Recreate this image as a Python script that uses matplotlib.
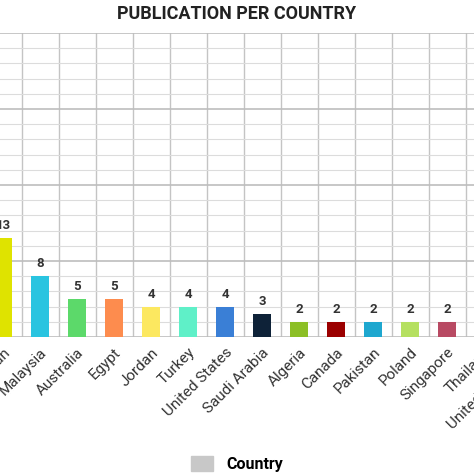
import matplotlib.pyplot as plt
from matplotlib.patches import Patch

countries = ['Iran', 'Malaysia', 'Australia', 'Egypt', 'Jordan', 'Turkey',
             'United States', 'Saudi Arabia', 'Algeria', 'Canada', 'Pakistan',
             'Poland', 'Singapore', 'Thailand', 'United Kingdom']
counts = [13, 8, 5, 5, 4, 4, 4, 3, 2, 2, 2, 2, 2, 2, 2]
colors = ['#dfe300', '#29c4e0', '#5cd96a', '#fd8c4e', '#fce860', '#5ff0c8',
          '#3a7fd6', '#0e2238', '#8cbf26', '#9b0000', '#1ea7cf', '#b5e060',
          '#b84a63', '#e0a030', '#7a5cc0']

plt.rcParams['font.family'] = ['Roboto', 'DejaVu Sans']
fig = plt.figure(figsize=(4.74, 4.74), dpi=100)
W = 474
left_px = 3 - 0.5 * 37
right_px = 3 + 14.5 * 37
ax = fig.add_axes([left_px / W, 137 / W, (right_px - left_px) / W, 304 / W])

x = list(range(len(countries)))
ax.bar(x, counts, width=0.47, color=colors, zorder=3)
for xi, v in zip(x, counts):
    ax.text(xi, v + 0.8, str(v), ha='center', va='bottom', fontsize=9.5,
            fontweight='bold', color='#333333')

ax.set_xlim(-0.5, 14.5)
ax.set_ylim(0, 40)
ax.set_xticks(x)
ax.set_xticklabels(countries, rotation=45, ha='right', rotation_mode='anchor',
                   fontsize=11, color='#333333')
ax.set_xticks([i + 0.5 for i in range(-1, 15)], minor=True)
ax.set_yticks([0, 10, 20, 30, 40])
ax.set_yticks(range(0, 41, 2), minor=True)
ax.tick_params(axis='both', which='both', length=0)
ax.tick_params(axis='y', labelleft=False)
ax.tick_params(axis='x', which='major', pad=6)
ax.grid(True, axis='y', which='major', color='#bdbdbd', lw=1.2, zorder=0)
ax.grid(True, axis='y', which='minor', color='#dcdcdc', lw=0.8, zorder=0)
ax.grid(True, axis='x', which='minor', color='#c4c4c4', lw=1.0, zorder=0)
for s in ax.spines.values():
    s.set_visible(False)

fig.text(0.5, 0.99, 'PUBLICATION PER COUNTRY', ha='center', va='top',
         fontsize=13, fontweight='bold', color='#222222')
fig.legend(handles=[Patch(color='#c8c8c8')], labels=['Country'],
           loc='center', bbox_to_anchor=(0.5, 0.022), frameon=False,
           prop={'weight': 'bold', 'size': 11.5}, handlelength=1.4,
           handleheight=1.1)

fig.savefig('out.png', dpi=100)
